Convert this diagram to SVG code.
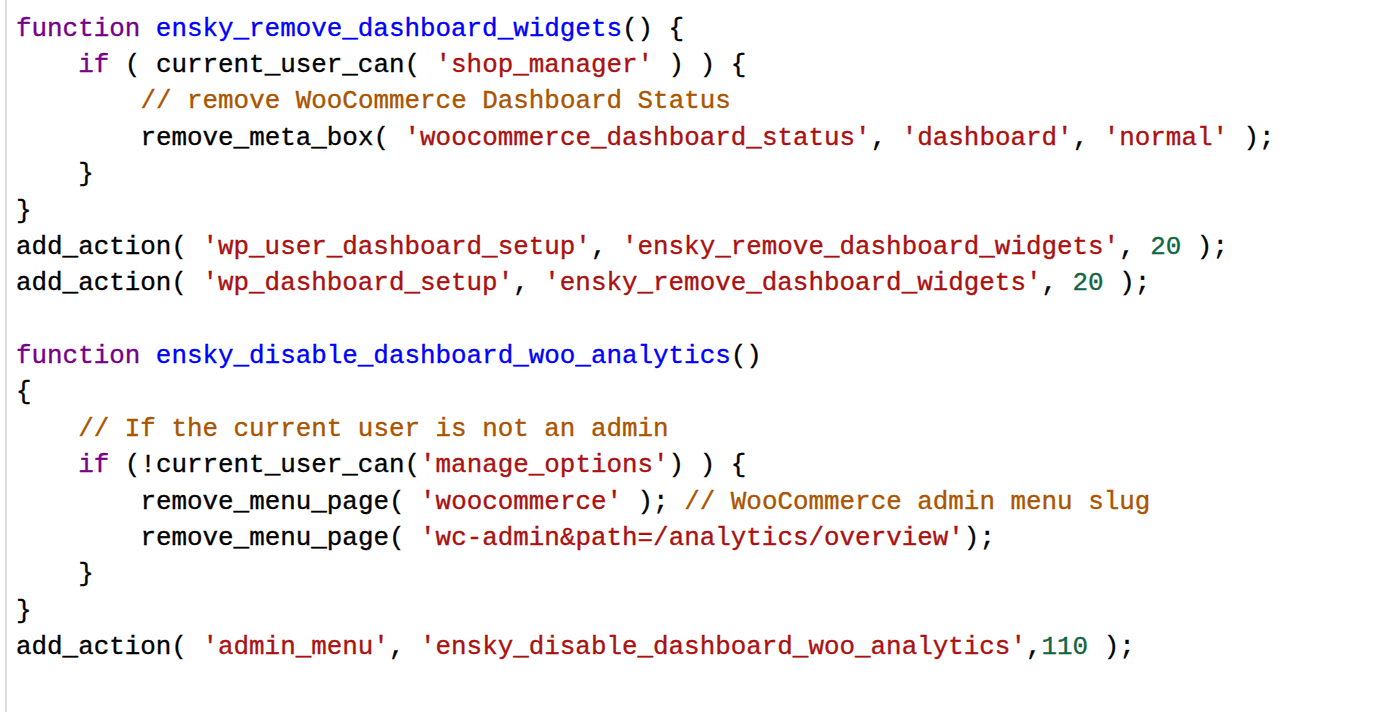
<svg xmlns="http://www.w3.org/2000/svg" width="1380" height="712" viewBox="0 0 1380 712">
<style>
text{font-family:"Liberation Mono","Courier New",monospace;font-size:25.9px;fill:#000;stroke:#000;stroke-width:0.35px;white-space:pre}
.k{fill:#770088;stroke:#770088}.d{fill:#0000ff;stroke:#0000ff}.s{fill:#aa1111;stroke:#aa1111}.n{fill:#116644;stroke:#116644}.c{fill:#aa5500;stroke:#aa5500}
</style>
<rect x="0" y="0" width="1380" height="712" fill="#ffffff"/>
<rect x="5" y="0" width="2" height="712" fill="#dddddd"/>
<g id="code">
<text x="16" y="35.7"><tspan class="k">function</tspan> <tspan class="d">ensky_remove_dashboard_widgets</tspan>() {</text>
<text x="78.2" y="72.1"><tspan class="k">if</tspan> ( current_user_can( <tspan class="s">'shop_manager'</tspan> ) ) {</text>
<text x="140.4" y="108.4" class="c">// remove WooCommerce Dashboard Status</text>
<text x="140.4" y="144.8">remove_meta_box( <tspan class="s">'woocommerce_dashboard_status'</tspan>, <tspan class="s">'dashboard'</tspan>, <tspan class="s">'normal'</tspan> );</text>
<text x="78.2" y="181.2">}</text>
<text x="16" y="217.6">}</text>
<text x="16" y="253.9">add_action( <tspan class="s">'wp_user_dashboard_setup'</tspan>, <tspan class="s">'ensky_remove_dashboard_widgets'</tspan>, <tspan class="n">20</tspan> );</text>
<text x="16" y="290.3">add_action( <tspan class="s">'wp_dashboard_setup'</tspan>, <tspan class="s">'ensky_remove_dashboard_widgets'</tspan>, <tspan class="n">20</tspan> );</text>
<text x="16" y="363.0"><tspan class="k">function</tspan> <tspan class="d">ensky_disable_dashboard_woo_analytics</tspan>()</text>
<text x="16" y="399.4">{</text>
<text x="78.2" y="435.8" class="c">// If the current user is not an admin</text>
<text x="78.2" y="472.2"><tspan class="k">if</tspan> (!current_user_can(<tspan class="s">'manage_options'</tspan>) ) {</text>
<text x="140.4" y="508.5">remove_menu_page( <tspan class="s">'woocommerce'</tspan> ); <tspan class="c">// WooCommerce admin menu slug</tspan></text>
<text x="140.4" y="544.9">remove_menu_page( <tspan class="s">'wc-admin&amp;path=/analytics/overview'</tspan>);</text>
<text x="78.2" y="581.3">}</text>
<text x="16" y="617.6">}</text>
<text x="16" y="654.0">add_action( <tspan class="s">'admin_menu'</tspan>, <tspan class="s">'ensky_disable_dashboard_woo_analytics'</tspan>,<tspan class="n">110</tspan> );</text>
</g>
</svg>
